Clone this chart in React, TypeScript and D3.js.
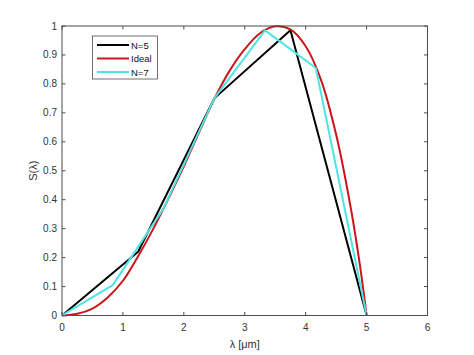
import React from "react";
import * as d3 from "d3";

const idealX = [0, 0.25, 0.5, 0.75, 1.0, 1.25, 1.5, 1.75, 2.0, 2.25, 2.5, 2.75, 3.0, 3.25, 3.5, 3.75, 4.0, 4.25, 4.5, 4.75, 4.9, 5.0];
const idealY = [0, 0.006, 0.024, 0.062, 0.12, 0.205, 0.3, 0.405, 0.515, 0.633, 0.748, 0.845, 0.92, 0.975, 0.999, 0.988, 0.93, 0.815, 0.625, 0.36, 0.16, 0];
const n5X = [0, 1.25, 2.5, 3.75, 5];
const n5Y = [0, 0.22, 0.75, 0.985, 0];
const n7X = [0, 0.833, 1.667, 2.5, 3.333, 4.167, 5];
const n7Y = [0, 0.105, 0.37, 0.75, 0.985, 0.855, 0];
const xTicks = [0, 1, 2, 3, 4, 5, 6];
const yTicks = [0, 0.1, 0.2, 0.3, 0.4, 0.5, 0.6, 0.7, 0.8, 0.9, 1];
const legendLabels = ["N=5", "Ideal", "N=7"];

const W = 474, H = 355;
const L = 62, R = 427.5, T = 26, B = 315.5;
const FONT = "'Liberation Sans', Arial, sans-serif";
const AX = "#4d4d4d";

export default function App() {
  const x = d3.scaleLinear().domain([0, 6]).range([L, R]);
  const y = d3.scaleLinear().domain([0, 1]).range([B, T]);
  const line = d3.line<[number, number]>().x(d => x(d[0])).y(d => y(d[1]));
  const smooth = d3.line<[number, number]>().x(d => x(d[0])).y(d => y(d[1])).curve(d3.curveCatmullRom.alpha(0.5));
  const zip = (a: number[], b: number[]) => a.map((v, i) => [v, b[i]] as [number, number]);
  const series = [
    { label: legendLabels[0], color: "#000000", d: line(zip(n5X, n5Y)) },
    { label: legendLabels[1], color: "#c9161b", d: smooth(zip(idealX, idealY)) },
    { label: legendLabels[2], color: "#4ee4e4", d: line(zip(n7X, n7Y)) },
  ];
  const tl = 3.5;
  return (
    <svg width={W} height={H} style={{ position: "absolute", left: 0, top: 0, background: "#fff" }} fontFamily={FONT}>
      <rect x={0} y={0} width={W} height={H} fill="#fff" />
      <defs>
        <clipPath id="plotclip"><rect x={L} y={T - 2} width={R - L} height={B - T + 4} /></clipPath>
      </defs>
      <g clipPath="url(#plotclip)">
        {series.map(s => (
          <path key={s.label} d={s.d || ""} fill="none" stroke={s.color} strokeWidth={2} strokeLinejoin="round" />
        ))}
      </g>
      <rect x={L} y={T} width={R - L} height={B - T} fill="none" stroke={AX} strokeWidth={1} />
      {xTicks.map(t => (
        <g key={"x" + t}>
          <line x1={x(t)} x2={x(t)} y1={B} y2={B - tl} stroke={AX} />
          <line x1={x(t)} x2={x(t)} y1={T} y2={T + tl} stroke={AX} />
          <text x={x(t)} y={B + 15} textAnchor="middle" fontSize={10} fill="#333">{t}</text>
        </g>
      ))}
      {yTicks.map(t => (
        <g key={"y" + t}>
          <line x1={L} x2={L + tl} y1={y(t)} y2={y(t)} stroke={AX} />
          <line x1={R} x2={R - tl} y1={y(t)} y2={y(t)} stroke={AX} />
          <text x={L - 5} y={y(t) + 3.5} textAnchor="end" fontSize={10} fill="#333">{String(t)}</text>
        </g>
      ))}
      <text x={(L + R) / 2} y={348} textAnchor="middle" fontSize={11} fill="#333">λ [μm]</text>
      <text transform={`translate(37,${(T + B) / 2}) rotate(-90)`} textAnchor="middle" fontSize={11} fill="#333">S(λ)</text>
      <g>
        <rect x={92.5} y={36} width={65} height={43} fill="#fff" stroke={AX} strokeWidth={0.8} />
        {series.map((s, i) => (
          <g key={"lg" + i}>
            <line x1={97} x2={129} y1={45 + i * 13.5} y2={45 + i * 13.5} stroke={s.color} strokeWidth={2} />
            <text x={131} y={45 + i * 13.5 + 3.5} fontSize={9.5} fill="#111">{s.label}</text>
          </g>
        ))}
      </g>
    </svg>
  );
}
